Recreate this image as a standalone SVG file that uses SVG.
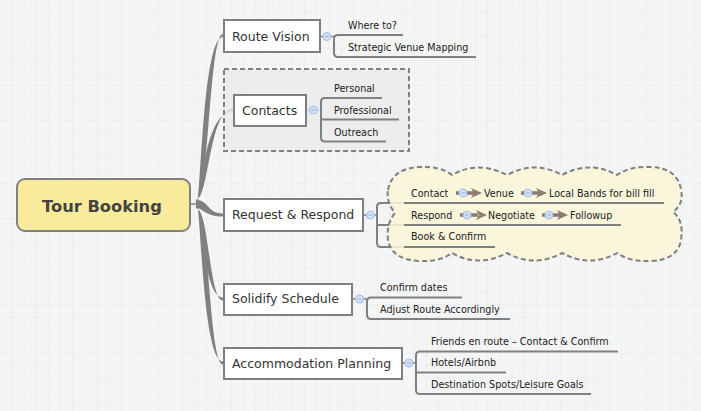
<svg xmlns="http://www.w3.org/2000/svg" width="701" height="411" viewBox="0 0 701 411">
<defs>
<pattern id="grid" width="12.2" height="12.2" patternUnits="userSpaceOnUse">
<rect width="12.2" height="12.2" fill="#f5f5f5"/>
<path d="M12.2 0V12.2M0 12.2H12.2" stroke="#e1eaf3" stroke-width="1" fill="none"/>
</pattern>
<g id="col"><circle r="4" fill="#d2e1f7" stroke="#a4bde3" stroke-width="1"/><path d="M-2 0H2" stroke="#8aa5d3" stroke-width="0.8"/></g>
</defs>
<style>
.node{fill:#fff;stroke:#7f7f7f;stroke-width:2}
.root{fill:#f8eb9b;stroke:#808080;stroke-width:2}
.t1{font-family:"DejaVu Sans",sans-serif;font-size:12.5px;fill:#333}
.t0{font-family:"DejaVu Sans",sans-serif;font-size:16.3px;font-weight:bold;fill:#444}
.t2{font-family:"DejaVu Sans",sans-serif;font-size:9.6px;fill:#222}
.ln{fill:none;stroke:#808080;stroke-width:2}
.thin{fill:none;stroke:#808080;stroke-width:1.5}
.trunk{fill:#808080}
.arr{stroke:#8b7b72;stroke-width:3.5;fill:none}
.ah{fill:#8b7b72}
</style>
<rect width="701" height="411" fill="url(#grid)"/>

<g id="connectors">
<path class="thin" d="M190 204H198"/>
<path class="trunk" d="M196,200 C209,200 209,34 223,34 L223,37 C202,37 201,208 196,208 Z"/>
<path class="trunk" d="M196,200 C209,200 209,108.5 233,108.5 L233,111.5 C202,111.5 201,208 196,208 Z"/>
<path class="trunk" d="M196,200 C209,200 207,213.5 223,213.5 L223,216.5 C205,216.5 203,208 196,208 Z"/>
<path class="trunk" d="M196,200 C201,200 202,297.5 223,297.5 L223,300.5 C209,300.5 209,208 196,208 Z"/>
<path class="trunk" d="M196,200 C201,200 202,361.5 223,361.5 L223,364.5 C209,364.5 209,208 196,208 Z"/>
<path class="thin" d="M320 36.5H324M331 36.5H334"/>
<path class="thin" d="M306 110H310M317 110H321"/>
<path class="thin" d="M363 215H367M374 215H377"/>
<path class="thin" d="M352 299H356M363 299H367"/>
<path class="thin" d="M402 363H406M413 363H416"/>
<path class="ln" d="M405 203H381Q377 203 377 207V243Q377 247 381 247H405M377 225H405"/>
</g>

<g id="boundary-contacts">
<rect x="224" y="69" width="185" height="82" fill="#ebebeb" fill-opacity="0.82" stroke="#808080" stroke-width="2" stroke-dasharray="5,3"/>
</g>

<g id="cloud">
<path d="M388,190 Q392,168 420,167 Q440,166 452,175 Q478,160 507,175 Q535,160 562,175 Q590,160 617,175 Q630,166 650,167 Q678,168 681,190 Q684,204 673,212 Q684,220 681,240 Q678,260 650,261 Q630,262 617,253 Q590,268 562,253 Q535,268 507,253 Q478,268 452,253 Q440,262 420,261 Q392,260 388,240 Q386,224 395,213 Q386,202 388,190 Z" fill="#faf6d6" fill-opacity="0.85" stroke="#808080" stroke-width="2" stroke-dasharray="5,3"/>
</g>

<g id="root">
<rect class="root" x="17" y="179" width="173" height="52" rx="8"/>
<text class="t0" x="42" y="211.5">Tour Booking</text>
</g>

<g id="route-vision">
<rect class="node" x="224" y="20" width="96" height="32"/>
<text class="t1" x="232" y="41">Route Vision</text>
<use href="#col" x="327" y="36.5"/>
<path class="ln" d="M403 35H338Q334 35 334 39V53Q334 57 338 57H476"/>
<text class="t2" x="348" y="29">Where to?</text>
<text class="t2" x="348" y="50.5">Strategic Venue Mapping</text>
</g>

<g id="contacts">
<rect class="node" x="234" y="95" width="72" height="31"/>
<text class="t1" x="242" y="115">Contacts</text>
<use href="#col" x="313.5" y="110"/>
<path class="ln" d="M382 98H325Q321 98 321 102V137.5Q321 141.5 325 141.5H386M321 119.5H399"/>
<text class="t2" x="334" y="92">Personal</text>
<text class="t2" x="334" y="113.5">Professional</text>
<text class="t2" x="334" y="135.5">Outreach</text>
</g>

<g id="request-respond">
<rect class="node" x="224" y="199" width="139" height="32"/>
<text class="t1" x="232" y="218.5">Request &amp; Respond</text>
<use href="#col" x="370.5" y="215"/>
<path class="ln" d="M404 203H664M404 225H621M404 247H495"/>
<text class="t2" x="411" y="196.5">Contact</text>
<text class="t2" x="484" y="196.5">Venue</text>
<text class="t2" x="549" y="196.5">Local Bands for bill fill</text>
<text class="t2" x="411" y="218.5">Respond</text>
<text class="t2" x="488" y="218.5">Negotiate</text>
<text class="t2" x="570" y="218.5">Followup</text>
<text class="t2" x="411" y="240">Book &amp; Confirm</text>
<g id="flow-arrows">
<path class="arr" d="M456 193H474M521 193H539M460 215H478M542 215H560"/>
<polygon class="ah" points="471,188 482,193 471,198 474,193"/>
<polygon class="ah" points="536,188 547,193 536,198 539,193"/>
<polygon class="ah" points="476,210 487,215 476,220 479,215"/>
<polygon class="ah" points="557,210 568,215 557,220 560,215"/>
<use href="#col" x="463" y="193"/>
<use href="#col" x="528" y="193"/>
<use href="#col" x="467" y="215"/>
<use href="#col" x="549" y="215"/>
</g>
</g>

<g id="solidify-schedule">
<rect class="node" x="224" y="284" width="128" height="31"/>
<text class="t1" x="232" y="303">Solidify Schedule</text>
<use href="#col" x="359.5" y="299"/>
<path class="ln" d="M462 297.5H371Q367 297.5 367 301.5V315Q367 319 371 319H510"/>
<text class="t2" x="380" y="291">Confirm dates</text>
<text class="t2" x="380" y="312.5">Adjust Route Accordingly</text>
</g>

<g id="accommodation-planning">
<rect class="node" x="224" y="348" width="178" height="31"/>
<text class="t1" x="232" y="367.5">Accommodation Planning</text>
<use href="#col" x="409" y="363"/>
<path class="ln" d="M618 351.5H420Q416 351.5 416 355.5V390Q416 394 420 394H591M416 372.5H506"/>
<text class="t2" x="431" y="344.5">Friends en route – Contact &amp; Confirm</text>
<text class="t2" x="431" y="366">Hotels/Airbnb</text>
<text class="t2" x="431" y="387.5">Destination Spots/Leisure Goals</text>
</g>
</svg>
